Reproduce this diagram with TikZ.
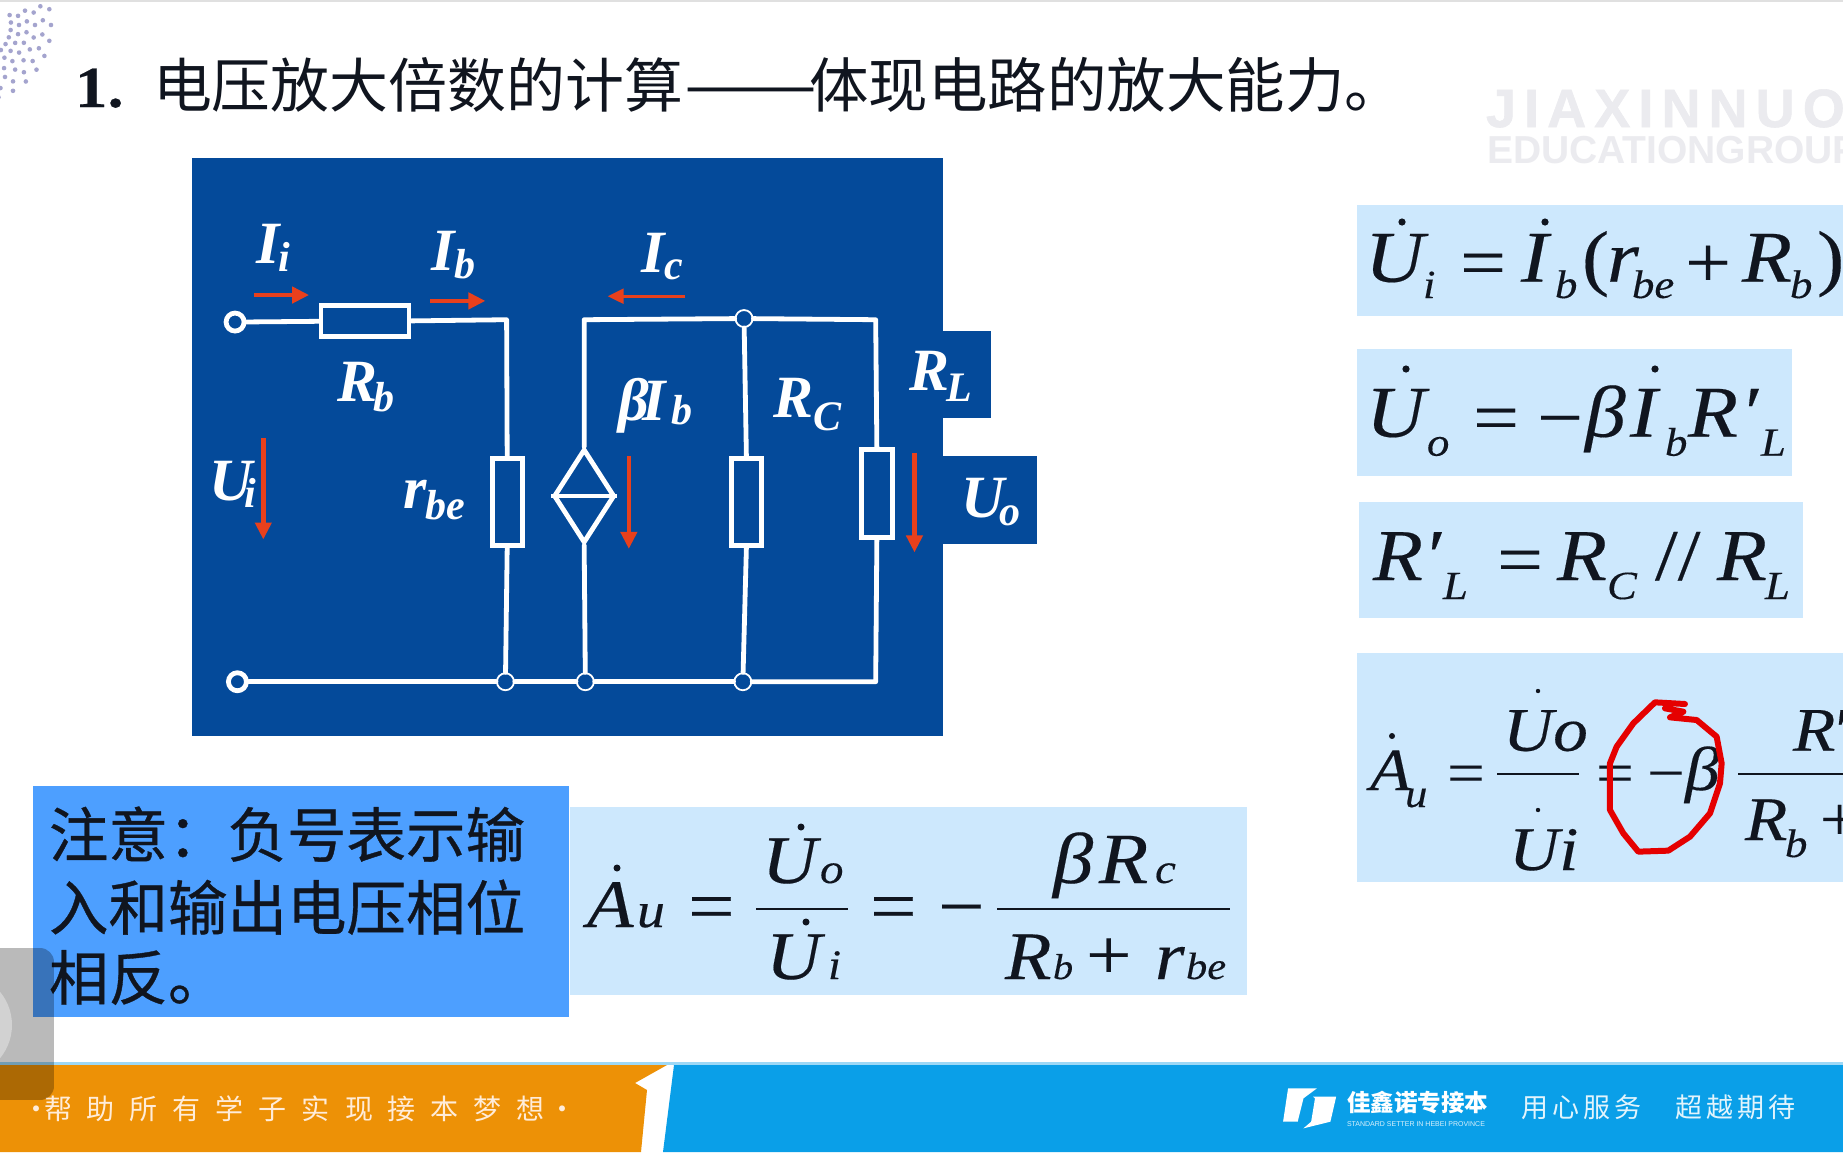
\documentclass[tikz,border=0pt]{standalone}
\usepackage{fontspec}
\usetikzlibrary{shapes.geometric,arrows.meta}
\setmainfont[FakeStretch=1.12,FakeBold=0.25]{Liberation Serif}
\newfontfamily\plainserif{Liberation Serif}
\newfontfamily\cjk{Noto Sans CJK SC}
\newfontfamily\cjkd[FakeStretch=1.27]{Noto Sans CJK SC}
\newfontfamily\cjkb[FakeBold=0.6]{Noto Sans CJK SC}
\newfontfamily\wmfont[LetterSpace=15,FakeBold=1]{Liberation Sans}
\newfontfamily\wmfontb{Liberation Sans}
\newfontfamily\sansf{Liberation Sans}
\definecolor{panel}{HTML}{044A9A}
\definecolor{fbg}{HTML}{CDE8FD}
\definecolor{note}{HTML}{4D9FFF}
\definecolor{ink}{HTML}{10151F}
\definecolor{redarr}{HTML}{E8401C}
\definecolor{orangeb}{HTML}{ED9106}
\definecolor{blueb}{HTML}{0A9FE8}
\definecolor{wm}{HTML}{EBEBEF}
\newcounter{tk}
\newcommand{\Fs}[1]{\fontsize{#1}{#1}\selectfont}
\newcommand{\mtI}[4]{\stepcounter{tk}\node[tok,font=\Fs{#3}\itshape] (t\thetk) at (#1,#2) {#4};}
\newcommand{\mtR}[4]{\stepcounter{tk}\node[tok,font=\Fs{#3}\upshape] (t\thetk) at (#1,#2) {#4};}
\newcommand{\wtL}[4]{\stepcounter{tk}\node[tok,text=white,font=\plainserif\Fs{#3}\bfseries\itshape] (t\thetk) at (#1,#2) {#4};}
\newcommand{\cjT}[5]{\stepcounter{tk}\node[tok,text=#4,font=\cjk\Fs{#3}] (t\thetk) at (#1,#2) {#5};}
\newcommand{\cjN}[5]{\stepcounter{tk}\node[tok,text=#4,font=\cjkb\Fs{#3}] (t\thetk) at (#1,#2) {#5};}
\tikzset{
  tok/.style={inner sep=0pt,outer sep=0pt,anchor=base west,text=ink},
  wire/.style={draw=white,line width=4.8pt,line cap=round,line join=round},
  res/.style={draw=white,line width=4.8pt,fill=panel,rectangle,inner sep=0pt},
  junc/.style={circle,draw=white,line width=1.8pt,fill=panel,minimum size=17pt,inner sep=0pt},
  term/.style={circle,draw=white,line width=4.8pt,fill=panel,minimum size=18pt,inner sep=0pt},
  rarr/.style={draw=redarr,line width=4.5pt,-{Triangle[length=17pt,width=16pt]}},
  rarrthin/.style={draw=redarr,line width=2.6pt,-{Triangle[length=16pt,width=15pt]}},
  fbox/.style={fill=fbg,draw=none},
  fline/.style={draw=ink,line width=2.4pt},
}
\begin{document}
\begin{tikzpicture}[x=1pt,y=-1pt]
\useasboundingbox (0,0) rectangle (1843,1152);
\clip (0,0) rectangle (1843,1152);
\fill[white] (0,0) rectangle (1843,1152);
\fill[black!12] (0,0) rectangle (1843,1.5);
% corner dots
\foreach \r/\o in {36/0,44/4,52/0,60/4,68/0,76/4}{
  \foreach \a in {-16,-4,...,100}{
    \fill[gray!70!blue!55!white] ({-25+\r*cos(\a+\o)},{25+\r*sin(\a+\o)}) circle (2.3pt);
  }
}
% watermark
\node[tok,text=wm,font=\wmfont\Fs{54}\bfseries] (wmA) at (1486,127) {JIAXINNUO};
\node[tok,text=wm,font=\wmfontb\Fs{39}\bfseries] (wmB) at (1487,163) {EDUCATIONGROUP};
% title
\mtR{75}{107}{58}{\bfseries 1.}
\cjT{153}{107}{58.9}{ink}{电压放大倍数的计算}
\stepcounter{tk}\node[tok,text=ink,font=\cjkd\Fs{62.5}] (t\thetk) at (684,107) {——};
\cjT{809}{107}{59.5}{ink}{体现电路的放大能力。}
% blue panel (reference coordinates / 1.1754)
\begin{scope}[x=1.1754pt,y=-1.1754pt]
\fill[panel] (163,134) rectangle (802,626);
\fill[panel] (802,282) rectangle (843,356);
\fill[panel] (802,388) rectangle (882,463);
\node[term] (T1) at (200,274) {};
\node[term] (T2) at (202,580) {};
\node[res,minimum width=88pt,minimum height=31pt] (Rb) at (310.5,273) {};
\node[res,minimum width=30pt,minimum height=87pt] (Rbe) at (431.5,427) {};
\node[res,minimum width=30pt,minimum height=87pt] (Rc) at (635,427) {};
\node[res,minimum width=31pt,minimum height=88pt] (Rl) at (746,420) {};
\node[diamond,draw=white,line width=4.8pt,fill=panel,minimum width=61pt,minimum height=94pt,aspect=.65,inner sep=0pt] (Src) at (497,422) {};
\node[junc] (J1) at (430,580) {};
\node[junc] (J2) at (498,580) {};
\node[junc] (J3) at (632,580) {};
\node[junc] (J4) at (633,271) {};
\coordinate (C1) at (431,272);
\coordinate (C2) at (497,272);
\coordinate (C3) at (745,272);
\coordinate (C4) at (745,580);
\draw[wire] (T1) -- (Rb);
\draw[wire] (Rb.east) -- (C1) -- (Rbe.north);
\draw[wire] (Rbe.south) -- (J1);
\draw[wire] (T2) -- (J1);
\draw[wire] (J1) -- (J2);
\draw[wire] (J2) -- (J3);
\draw[wire] (J3) -- (C4) -- (Rl.south);
\draw[wire] (Rl.north) -- (C3) -- (J4);
\draw[wire] (J4) -- (C2) -- (Src.north);
\draw[wire] (Src.south) -- (J2);
\draw[wire] (J4) -- (Rc.north);
\draw[wire] (Rc.south) -- (J3);
\draw[draw=white,line width=4.8pt] (Src.west) -- (Src.east);
% red arrows
\coordinate (a1s) at (216,251); \coordinate (a1e) at (263,251);
\coordinate (a2s) at (366,256); \coordinate (a2e) at (413,256);
\coordinate (a3s) at (583,252); \coordinate (a3e) at (517,252);
\coordinate (a4s) at (224,373); \coordinate (a4e) at (224,459);
\coordinate (a5s) at (535,388); \coordinate (a5e) at (535,467);
\coordinate (a6s) at (778,385); \coordinate (a6e) at (778,470);
\draw[rarr] (a1s) -- (a1e);
\draw[rarr] (a2s) -- (a2e);
\draw[rarrthin] (a3s) -- (a3e);
\draw[rarr] (a4s) -- (a4e);
\draw[rarr] (a5s) -- (a5e);
\draw[rarr] (a6s) -- (a6e);
% labels
\wtL{218}{224}{60}{I}\wtL{237}{231}{42}{i}
\wtL{367}{230}{60}{I}\wtL{387}{237}{42}{b}
\wtL{546}{232}{60}{I}\wtL{565}{238}{42}{c}
\wtL{287}{342}{60}{R}\wtL{318}{350}{42}{b}
\wtL{178}{426}{60}{U}\wtL{208}{432}{42}{i}
\wtL{343}{433}{60}{r}\wtL{362}{442}{42}{be}
\wtL{526}{358}{60}{β}\wtL{547}{358}{60}{I}\wtL{571}{361}{42}{b}
\wtL{658}{355}{60}{R}\wtL{692}{366}{42}{C}
\wtL{774}{332}{60}{R}\wtL{805}{342}{42}{L}
\wtL{818}{440}{60}{U}\wtL{850}{447}{42}{o}
\end{scope}
% formula boxes
\fill[fbox] (1357,205) rectangle (1843,316);
\fill[fbox] (1357,349) rectangle (1792,476);
\fill[fbox] (1359,502) rectangle (1803,618);
\fill[fbox] (1357,653) rectangle (1843,882);
\fill[fbox] (570,807) rectangle (1247,995);
\fill[note] (33,786) rectangle (569,1017);
% F1
\mtI{1365}{281.7}{73}{U}\fill[ink] (1402,222) circle (3.6pt);
\mtI{1423}{298}{40}{i}
\mtR{1460}{287}{73}{=}
\mtI{1521}{281.7}{73}{I}\fill[ink] (1545,222) circle (3.6pt);
\mtI{1555}{298}{40}{b}
\mtR{1582}{281.7}{73}{(}
\mtI{1607}{281.7}{73}{r}
\mtI{1632}{298}{40}{be}
\mtR{1685}{287}{73}{+}
\mtI{1742}{281.7}{73}{R}
\mtI{1790}{298}{40}{b}
\mtR{1817}{281.7}{73}{)}
% F2
\mtI{1366}{436.7}{73}{U}\fill[ink] (1406,369) circle (3.6pt);
\mtI{1427}{455.7}{40}{o}
\mtR{1473}{442}{73}{=}
\mtR{1537}{442}{73}{−}
\mtI{1585}{436.7}{73}{β}
\mtI{1630}{436.7}{73}{I}\fill[ink] (1655,369) circle (3.6pt);
\mtI{1665}{455.7}{40}{b}
\mtI{1688}{436.7}{73}{R}
\mtI{1745}{436.7}{73}{\upshape\char"2032}
\mtI{1761}{455.7}{40}{L}
% F3
\mtI{1373}{580}{73}{R}
\mtI{1428}{580}{73}{\upshape\char"2032}
\mtI{1443}{599}{40}{L}
\mtR{1497}{584}{73}{=}
\mtI{1557}{580}{73}{R}
\mtI{1607}{599}{40}{C}
\mtR{1655}{580}{73}{//}
\mtI{1717}{580}{73}{R}
\mtI{1765}{599}{40}{L}
% F4
\mtI{1370}{790}{60}{A}\fill[ink] (1392,736) circle (3pt);
\mtI{1405}{807}{40}{u}
\mtR{1447}{793}{60}{=}
\coordinate (f4a) at (1497,774); \coordinate (f4b) at (1579,774);
\draw[fline] (f4a) -- (f4b);
\mtI{1503}{750.7}{62}{Uo}\fill[ink] (1538,691) circle (2.2pt);
\mtI{1509}{870}{62}{Ui}\fill[ink] (1538,810) circle (2.2pt);
\mtR{1596}{793}{60}{=}
\mtR{1647}{793}{60}{−}
\mtI{1685}{790}{62}{β}
\coordinate (f4c) at (1738,774); \coordinate (f4d) at (1843,774);
\draw[fline] (f4c) -- (f4d);
\mtI{1793}{750.7}{62}{R\upshape\char"2032}
\mtI{1745}{840}{62}{R}
\mtI{1785}{857}{40}{b}
\mtR{1820}{840}{62}{+}
% red circle
\begin{scope}[shift={(1340,640)},x=.3333pt,y=-.3333pt]
\draw[red!90!black,line width=6pt,line join=round,line cap=round]
 (1035,192) -- (945,187) -- (880,250) -- (830,320) -- (810,370) -- (810,510) -- (850,580) -- (895,635) -- (985,632) -- (1050,590) -- (1110,520) -- (1140,430) -- (1145,370) -- (1130,290) -- (1070,240) -- (990,232) -- (1030,215) -- (975,205);
\end{scope}
% F5
\mtI{587}{927}{68}{A}\fill[ink] (617,868) circle (3.5pt);
\mtI{637}{927}{50}{u}
\mtR{688}{931}{74}{=}
\coordinate (f5a) at (756,909); \coordinate (f5b) at (848,909);
\draw[fline] (f5a) -- (f5b);
\mtI{762}{883}{68}{U}\fill[ink] (801,827) circle (3.5pt);
\mtI{820}{883}{42}{o}
\mtI{766}{979}{68}{U}\fill[ink] (806,922) circle (3.5pt);
\mtI{828}{979}{42}{i}
\mtR{870}{931}{74}{=}
\mtR{938}{931}{74}{−}
\coordinate (f5c) at (997,909); \coordinate (f5d) at (1230,909);
\draw[fline] (f5c) -- (f5d);
\mtI{1053}{883}{72}{β}
\mtI{1099}{883}{72}{R}
\mtI{1155}{883}{42}{c}
\mtI{1005}{979}{68}{R}
\mtI{1053}{979}{36}{b}
\mtR{1086}{979}{72}{+}
\mtI{1155}{979}{68}{r}
\mtI{1186}{979}{38}{be}
% note text
\cjN{49}{857}{59.5}{ink}{注意：负号表示输}
\cjN{49}{930}{59.5}{ink}{入和输出电压相位}
\cjN{49}{1000}{59.5}{ink}{相反。}
% banner
\fill[blueb!40!white] (0,1062) rectangle (1843,1065);
\fill[blueb] (674,1065) -- (1843,1065) -- (1843,1152) -- (663,1152) -- cycle;
\fill[orangeb] (0,1065) -- (667,1065) -- (635,1083) -- (647,1090) -- (641,1152) -- (0,1152) -- cycle;
\cjT{22}{1119}{28}{orange!15!white}{·}
\cjT{44}{1119}{28}{orange!15!white}{帮\kern15pt 助\kern15pt 所\kern15pt 有\kern15pt 学\kern15pt 子\kern15pt 实\kern15pt 现\kern15pt 接\kern15pt 本\kern15pt 梦\kern15pt 想}
\cjT{548}{1119}{28}{orange!15!white}{·}
% widget
\begin{scope}
\clip (0,948) -- (40,948) arc (-90:0:14) -- (54,1086) arc (0:90:14) -- (0,1100) -- cycle;
\fill[black,opacity=.27] (0,948) rectangle (54,1100);
\fill[white,opacity=.35] (-40,1025) circle (52pt);
\end{scope}
% logo
\begin{scope}[shift={(1240,1050)},x=.3846pt,y=-.3333pt]
\fill[white] (125,115) -- (200,115) -- (165,145) -- (150,215) -- (112,215) -- cycle;
\fill[white] (190,140) -- (250,140) -- (235,215) -- (165,235) -- (185,215) -- (195,145) -- cycle;
\end{scope}
\stepcounter{tk}\node[tok,text=white,font=\cjk\Fs{23.5}\bfseries] (t\thetk) at (1347,1111) {佳鑫诺专接本};
\stepcounter{tk}\node[tok,text=white!85!blueb,font=\sansf\Fs{7}] (t\thetk) at (1347,1126) {STANDARD SETTER IN HEBEI PROVINCE};
\cjT{1521}{1117}{27}{white!88!blueb}{用\kern4pt 心\kern4pt 服\kern4pt 务}
\cjT{1675}{1117}{27}{white!88!blueb}{超\kern4pt 越\kern4pt 期\kern4pt 待}
\end{tikzpicture}
\end{document}
